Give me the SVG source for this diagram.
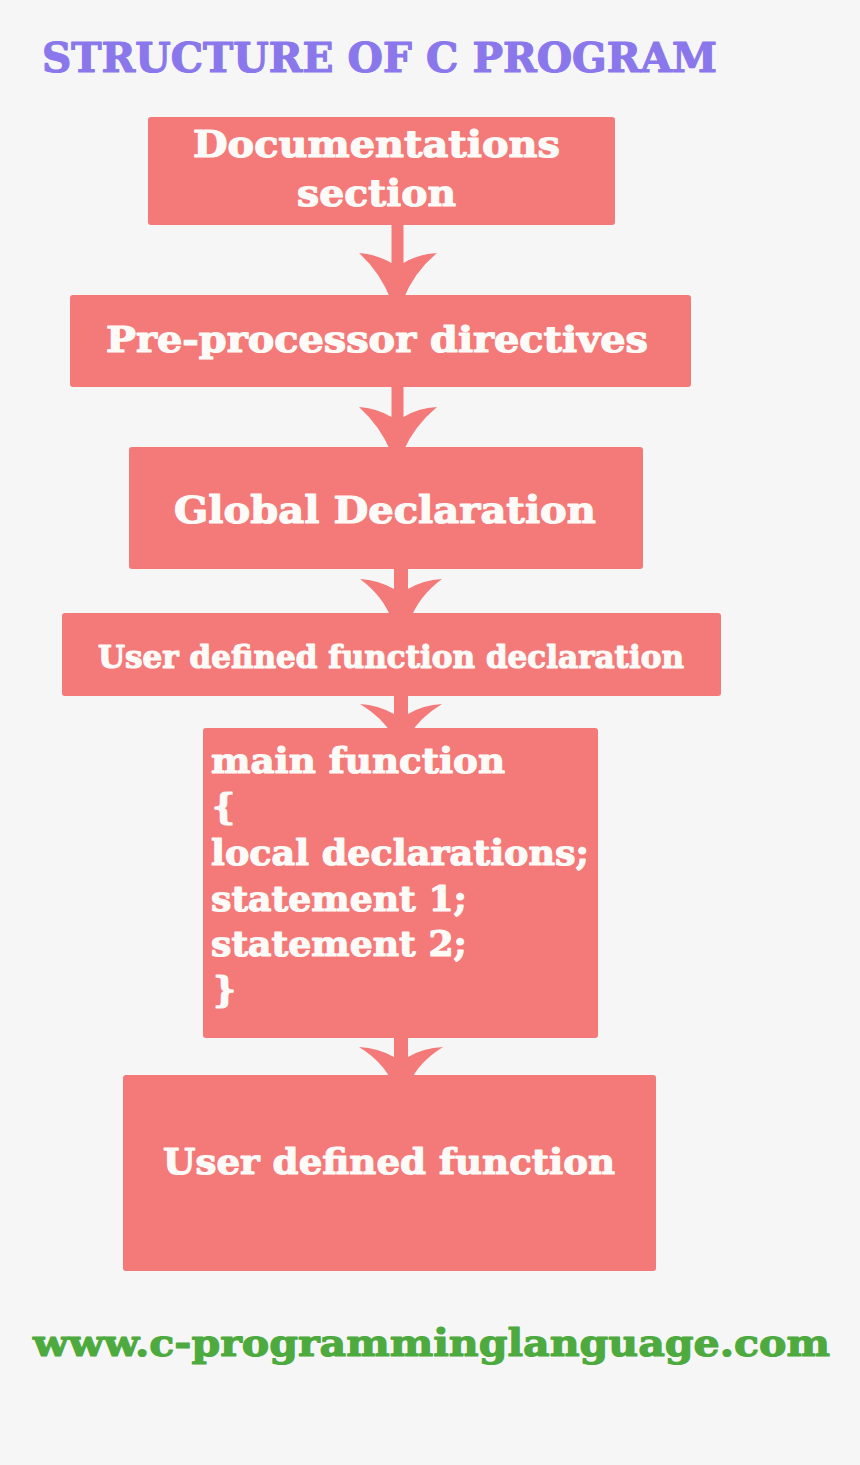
<svg xmlns="http://www.w3.org/2000/svg" width="860" height="1465" viewBox="0 0 860 1465">
<defs>
<style>
.bg{fill:#F6F6F6}
.box{fill:#F47979}
.arr{fill:#F47979}
.t{font-family:"DejaVu Serif","Liberation Serif",serif;font-weight:bold;fill:#FDFBF8;stroke:#FDFBF8;stroke-width:1.2;stroke-linejoin:round}
.title{font-family:"DejaVu Serif","Liberation Serif",serif;font-weight:bold;fill:#8A77EB;stroke:#8A77EB;stroke-width:1.2;stroke-linejoin:round}
.foot{font-family:"DejaVu Serif","Liberation Serif",serif;font-weight:bold;fill:#4DAA3E;stroke:#4DAA3E;stroke-width:1.2;stroke-linejoin:round}
</style>
</defs>
<rect class="bg" x="0" y="0" width="860" height="1465"/>
<text class="title" x="42" y="72" font-size="41" textLength="675" lengthAdjust="spacingAndGlyphs">STRUCTURE OF C PROGRAM</text>
<g id="connectors">
<path class="arr" d="M391.5,224 H403.5 V263 Q418,254 437,253 Q414,272 403,300 H391 Q380,272 359,253 Q376,254 391.5,263 Z"/>
<path class="arr" d="M391.5,387 H403.5 V417 Q418,408 437,407 Q414,426 403,452 H391 Q380,426 359,407 Q376,408 391.5,417 Z"/>
<path class="arr" d="M394,569 H408 V589 Q423,580 442,579 Q419,596 410,620 H392 Q383,596 360,579 Q378,580 394,589 Z"/>
<path class="arr" d="M394,695 H408 V714 Q423,705 442,704 Q419,718 410,735 H392 Q383,718 360,704 Q378,705 394,714 Z"/>
<path class="arr" d="M394,1037 H408 V1057 Q423,1048 443,1047 Q419,1062 410,1082 H392 Q383,1062 359,1047 Q378,1048 394,1057 Z"/>
</g>
<g id="n1">
<rect class="box" x="148" y="117" width="467" height="108" rx="3"/>
<text class="t" x="193" y="157" font-size="37" textLength="367" lengthAdjust="spacingAndGlyphs">Documentations</text>
<text class="t" x="297" y="206" font-size="37" textLength="159" lengthAdjust="spacingAndGlyphs">section</text>
</g>
<g id="n2">
<rect class="box" x="70" y="295" width="621" height="92" rx="3"/>
<text class="t" x="106" y="352" font-size="35" textLength="542" lengthAdjust="spacingAndGlyphs">Pre-processor directives</text>
</g>
<g id="n3">
<rect class="box" x="129" y="447" width="514" height="122" rx="3"/>
<text class="t" x="174" y="523" font-size="38" textLength="422" lengthAdjust="spacingAndGlyphs">Global Declaration</text>
</g>
<g id="n4">
<rect class="box" x="62" y="613" width="659" height="83" rx="3"/>
<text class="t" x="98" y="668" font-size="31" textLength="586" lengthAdjust="spacingAndGlyphs">User defined function declaration</text>
</g>
<g id="n5">
<rect class="box" x="203" y="728" width="395" height="310" rx="3"/>
<text class="t" x="211" y="773" font-size="36" textLength="294" lengthAdjust="spacingAndGlyphs">main function</text>
<text class="t" x="212" y="819" font-size="36">{</text>
<text class="t" x="211" y="865" font-size="36" textLength="378" lengthAdjust="spacingAndGlyphs">local declarations;</text>
<text class="t" x="211" y="911" font-size="36" textLength="256" lengthAdjust="spacingAndGlyphs">statement 1;</text>
<text class="t" x="211" y="956" font-size="36" textLength="256" lengthAdjust="spacingAndGlyphs">statement 2;</text>
<text class="t" x="213" y="1002" font-size="36">}</text>
</g>
<g id="n6">
<rect class="box" x="123" y="1075" width="533" height="196" rx="3"/>
<text class="t" x="163" y="1174" font-size="36" textLength="452" lengthAdjust="spacingAndGlyphs">User defined function</text>
</g>
<text class="foot" x="33" y="1356" font-size="38" textLength="797" lengthAdjust="spacingAndGlyphs">www.c-programminglanguage.com</text>
</svg>
